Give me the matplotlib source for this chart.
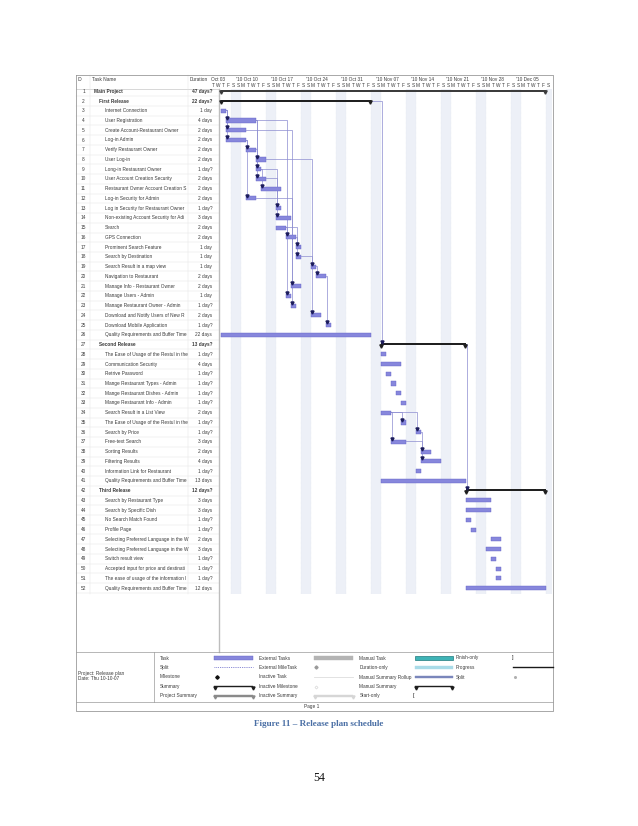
import numpy as np
import matplotlib
matplotlib.use("Agg")
import matplotlib.pyplot as plt
import matplotlib.dates as mdates

plt.rcParams['font.family'] = ['Liberation Sans', 'DejaVu Sans']

# ---------------- data ----------------
task_ids = list(range(1, 53))
task_names = [
    "Main Project", "First Release", "Internet Connection", "User Registration",
    "Create Account-Restaurant Owner", "Log-in Admin", "Verify Restaurant Owner",
    "User Log-in", "Long-in Restaurant Owner", "User Account Creation Security",
    "Restaurant Owner Account Creation S", "Log-in Security for Admin",
    "Log in Security for Restaurant Owner", "Non-existing Account Security for Adi",
    "Search", "GPS Connection", "Prominent Search Feature", "Search by Destination",
    "Search Result in a map view", "Navigation to Restaurant",
    "Manage Info - Restaurant Owner", "Manage Users - Admin",
    "Manage Restaurant Owner - Admin", "Download and Notify Users of New R",
    "Download Mobile Application", "Quality Requirements and Buffer Time",
    "Second Release", "The Ease of Usage of the Restul in the",
    "Communication Security", "Retrive Password", "Mange Restaurant Types - Admin",
    "Mange Restaurant Dishes - Admin", "Mange Restaurant Info - Admin",
    "Search Result in a List View", "The Ease of Usage of the Restul in the",
    "Search by Price", "Free-text Search", "Sorting Results", "Filtering Results",
    "Information Link for Restaurant", "Quality Requirements and Buffer Time",
    "Third Release", "Search by Restaurant Type", "Search by Specific Dish",
    "No Search Match Found", "Profile Page", "Selecting Preferred Language in the W",
    "Selecting Preferred Language in the W", "Switch result view",
    "Accepted input for price and destinati", "The ease of usage of the information I",
    "Quality Requirements and Buffer Time",
]
duration_labels = [
    "47 days?", "22 days?", "1 day", "4 days", "2 days", "2 days", "2 days", "2 days",
    "1 day?", "2 days", "2 days", "2 days", "1 day?", "3 days", "2 days", "2 days",
    "1 day", "1 day", "1 day", "2 days", "2 days", "1 day", "1 day?", "2 days",
    "1 day?", "22 days", "13 days?", "1 day?", "4 days", "1 day?", "1 day?", "1 day?",
    "1 day?", "2 days", "1 day?", "1 day?", "3 days", "2 days", "4 days", "1 day?",
    "13 days", "12 days?", "3 days", "3 days", "1 day?", "1 day?", "2 days", "3 days",
    "1 day?", "1 day?", "1 day?", "12 days",
]
work_days = [47, 22, 1, 4, 2, 2, 2, 2, 1, 2, 2, 2, 1, 3, 2, 2, 1, 1, 1, 2, 2, 1, 1, 2,
             1, 22, 13, 1, 4, 1, 1, 1, 1, 2, 1, 1, 3, 2, 4, 1, 13, 12, 3, 3, 1, 1, 2, 3,
             1, 1, 1, 12]
start_dates = [
    "2010-10-07", "2010-10-07", "2010-10-07", "2010-10-08", "2010-10-08", "2010-10-08",
    "2010-10-12", "2010-10-14", "2010-10-14", "2010-10-14", "2010-10-15", "2010-10-12",
    "2010-10-18", "2010-10-18", "2010-10-18", "2010-10-20", "2010-10-22", "2010-10-22",
    "2010-10-25", "2010-10-26", "2010-10-21", "2010-10-20", "2010-10-21", "2010-10-25",
    "2010-10-28", "2010-10-07", "2010-11-08", "2010-11-08", "2010-11-08", "2010-11-09",
    "2010-11-10", "2010-11-11", "2010-11-12", "2010-11-08", "2010-11-12", "2010-11-15",
    "2010-11-10", "2010-11-16", "2010-11-16", "2010-11-15", "2010-11-08", "2010-11-25",
    "2010-11-25", "2010-11-25", "2010-11-25", "2010-11-26", "2010-11-30", "2010-11-29",
    "2010-11-30", "2010-12-01", "2010-12-01", "2010-11-25",
]
outline_level = [0, 1] + [2] * 24 + [1] + [2] * 14 + [1] + [2] * 10
summary_ids = [1, 2, 27, 42]
links = [(3, 4), (3, 5), (3, 6), (6, 7), (6, 12), (4, 8), (4, 10), (7, 9), (9, 11),
         (9, 13), (10, 14), (4, 22), (5, 21), (12, 23), (8, 24), (15, 16), (15, 18),
         (16, 17), (18, 19), (19, 20), (20, 25), (2, 27), (34, 35), (34, 36), (34, 37),
         (36, 38), (37, 39), (27, 42)]
week_starts = ["2010-10-10", "2010-10-17", "2010-10-24", "2010-10-31",
               "2010-11-07", "2010-11-14", "2010-11-21", "2010-11-28", "2010-12-05",
               "2010-12-12"]
first_week_label = "Oct 03"
legend_col1 = ["Task", "Split", "Milestone", "Summary", "Project Summary"]
legend_col2 = ["External Tasks", "External MileTask", "Inactive Task",
               "Inactive Milestone", "Inactive Summary"]
legend_col3 = ["Manual Task", "Duration-only", "Manual Summary Rollup",
               "Manual Summary", "Start-only"]
legend_col4 = ["Finish-only", "Progress", "Split"]
project_info = ["Project: Release plan", "Date: Thu 10-10-07"]
caption = "Figure 11 \u2013 Release plan schedule"
page_number = "54"

# ---------------- layout ----------------
W, H = 638, 826
ROW1, DY = 91.3, 9.74
X_START_PIX, DAY_PIX = 220.5, 5.0
TXT = '#3a3a3a'
TASK_FC, TASK_EC = '#8787dc', '#6262c6'
LINK_C = '#8c8cd0'
WEEKEND = '#edf0f7'
FS = 3.4

fig = plt.figure(figsize=(W / 100, H / 100), dpi=100)
fig.patch.set_facecolor('white')


def add_ax(x0, y0, x1, y1):
    return fig.add_axes([x0 / W, 1 - y1 / H, (x1 - x0) / W, (y1 - y0) / H])


def row_y(r):
    return ROW1 + (r - 1) * DY


starts = np.array(start_dates, dtype='datetime64[D]')
ends = np.busday_offset(starts, np.array(work_days) - 1, roll='forward') + np.timedelta64(1, 'D')
s_num = mdates.date2num(starts)
e_num = mdates.date2num(ends)
d0 = mdates.date2num(np.datetime64("2010-10-07"))


def xlim_for(px0, px1):
    return (d0 + (px0 - X_START_PIX) / DAY_PIX, d0 + (px1 - X_START_PIX) / DAY_PIX)


# background axes in pixel coordinates
ax0 = fig.add_axes([0, 0, 1, 1])
ax0.set_xlim(0, W)
ax0.set_ylim(H, 0)
ax0.axis('off')

# ---------------- gantt axes ----------------
GX0, GX1, GY0, GY1 = 219, 552, 89, 652
axg = add_ax(GX0, GY0, GX1, GY1)
axg.set_xlim(*xlim_for(GX0, GX1))
r_top = 1 + (GY0 - ROW1) / DY
r_bot = 1 + (GY1 - ROW1) / DY
axg.set_ylim(r_bot, r_top)
axg.axis('off')

# weekend bands
band_ymin = (GY1 - 594) / (GY1 - GY0)
sat = np.arange(np.datetime64("2010-10-02"), np.datetime64("2010-12-18"), 7)
for s in mdates.date2num(sat):
    axg.axvspan(s, s + 2, ymin=band_ymin, ymax=1, color=WEEKEND, lw=0, zorder=0)
    for xx in (s, s + 2):
        axg.axvline(xx, ymin=band_ymin, ymax=1, color='#dfe4ee', lw=0.3,
                    ls=(0, (1.5, 1.5)), zorder=0.5)

rows = np.array(task_ids)
is_sum = np.isin(rows, summary_ids)

# task bars
axg.barh(rows[~is_sum], (e_num - s_num)[~is_sum], left=s_num[~is_sum], height=0.42,
         color=TASK_FC, edgecolor=TASK_EC, linewidth=0.3, zorder=3)

# summary bars
for r in rows[is_sum]:
    i = r - 1
    c = '#3c3c3c' if r == 1 else '#202020'
    axg.barh(r - 0.05, e_num[i] - s_num[i], left=s_num[i], height=0.26 if r == 1 else 0.2,
             color=c, lw=0, zorder=4)
    axg.plot([s_num[i] + 0.15, e_num[i] - 0.15], [r + 0.12, r + 0.12], ls='none',
             marker='v', ms=2.4, color=c, mec=c, zorder=5)

# links
for p, s in links:
    ip, is_ = p - 1, s - 1
    xv = max(e_num[ip], s_num[is_]) + 0.3
    yp = p - 0.05
    ys_top = s - 0.3
    axg.plot([e_num[ip], xv, xv], [yp, yp, ys_top], color=LINK_C, lw=0.5, zorder=2,
             solid_joinstyle='miter')
    axg.plot([xv], [ys_top], marker='v', ms=2.2, color='#1c1c5c', mec='#1c1c5c', zorder=6)

# ---------------- header timescale ----------------
HX0, HY0, HY1 = 210, 74.5, 89
axh = add_ax(HX0, HY0, GX1, HY1)
axh.set_xlim(*xlim_for(HX0, GX1))
axh.set_ylim(HY1, HY0)
axh.axis('off')
axh.text(axh.get_xlim()[0] + 0.15, 79.8, first_week_label, fontsize=FS, color=TXT,
         va='center', ha='left')
for ws in week_starts:
    wd = np.datetime64(ws)
    wn = mdates.date2num(wd)
    lab = "'10 " + wd.astype(object).strftime("%b %d")
    if ws == week_starts[-1]:
        lab = "'1"
    axh.text(wn + 0.15, 79.8, lab, fontsize=FS, color=TXT, va='center', ha='left',
             clip_on=True)
days = np.arange(np.datetime64("2010-10-05"), np.datetime64("2010-12-13"))
letters = "MTWTFSS"
for dday in days:
    wdx = dday.astype(object).weekday()
    axh.text(mdates.date2num(dday) + 0.5, 85.6, letters[wdx], fontsize=FS, color=TXT,
             va='center', ha='center', clip_on=True)

# ---------------- table ----------------
ax0.text(78, 79.8, "ID", fontsize=FS, color=TXT, va='center')
ax0.text(92, 79.8, "Task Name", fontsize=FS, color=TXT, va='center')
ax0.text(189.5, 79.8, "Duration", fontsize=FS, color=TXT, va='center')

indent = {0: 93.5, 1: 99.0, 2: 105.0}
for i, r in enumerate(task_ids):
    y = row_y(r)
    bold = r in summary_ids
    fw = 'bold' if bold else 'normal'
    ax0.text(83.5, y, str(r), fontsize=FS, color=TXT, va='center', ha='center')
    ax0.text(indent[outline_level[i]], y, task_names[i], fontsize=FS, color=TXT,
             va='center', ha='left', fontweight=fw)
    ax0.text(212, y, duration_labels[i], fontsize=FS, color=TXT, va='center',
             ha='right', fontweight=fw)

# row grid lines
for r in range(1, 53):
    yb = row_y(r) + DY / 2
    ax0.plot([75.5, 218.5], [yb, yb], color='#e4e4e4', lw=0.35, zorder=1)
ax0.plot([75.5, 218.5], [89, 89], color='#c8c8c8', lw=0.5)
for xc in (89.5, 187.5):
    ax0.plot([xc, xc], [74.5, 594], color='#e4e4e4', lw=0.35)

# frame and divider lines
ax0.plot([75.5, 552.5, 552.5, 75.5, 75.5], [74.5, 74.5, 711, 711, 74.5], color='#9a9a9a', lw=0.6)
ax0.plot([218.5, 218.5], [89, 652], color='#bdbdbd', lw=1.0)
ax0.plot([75.5, 552.5], [652, 652], color='#9a9a9a', lw=0.5)
ax0.plot([75.5, 552.5], [702, 702], color='#9a9a9a', lw=0.5)
ax0.plot([153.5, 153.5], [652, 702], color='#9a9a9a', lw=0.5)

# ---------------- legend ----------------
LY = [658, 667.3, 677, 686.7, 696]
ax0.text(77.5, 673.5, project_info[0], fontsize=FS, color=TXT, va='center')
ax0.text(77.5, 678.5, project_info[1], fontsize=FS, color=TXT, va='center')
for lab, y in zip(legend_col1, LY):
    ax0.text(160, y, lab, fontsize=FS, color=TXT, va='center')
for lab, y in zip(legend_col2, LY):
    ax0.text(259.3, y, lab, fontsize=FS, color=TXT, va='center')
for lab, y in zip(legend_col3, LY):
    ax0.text(359.3, y, lab, fontsize=FS, color=TXT, va='center')
for lab, y in zip(legend_col4, LY):
    ax0.text(456, y, lab, fontsize=FS, color=TXT, va='center')


def leg_bar(x0, x1, y, h, fc, ec=None, lw=0.3):
    ax0.add_patch(plt.Rectangle((x0, y - h / 2), x1 - x0, h, fc=fc,
                                ec=ec if ec else fc, lw=lw))


def leg_summary(x0, x1, y, c):
    leg_bar(x0, x1, y - 0.3, 1.6, c)
    ax0.plot([x0 + 0.8, x1 - 0.8], [y + 1.0, y + 1.0], ls='none', marker='v', ms=2.2,
             color=c, mec=c)


# column 1 symbols
leg_bar(214.3, 253.3, LY[0], 3.6, TASK_FC, TASK_EC)
ax0.plot([214.3, 253.3], [LY[1], LY[1]], color=TASK_EC, lw=0.6, ls=(0, (1, 1.2)))
ax0.plot([217], [LY[2]], marker='D', ms=1.8, color='#111111')
leg_summary(214.3, 253.3, LY[3], '#1e1e1e')
leg_summary(214.3, 253.3, LY[4], '#8a8a8a')
# column 2 symbols
leg_bar(314, 353.3, LY[0], 3.6, '#b4b4b4')
ax0.plot([316], [LY[1]], marker='D', ms=1.6, color='#9a9a9a')
ax0.plot([314, 353.3], [LY[2], LY[2]], color='#dddddd', lw=0.6)
ax0.plot([316], [LY[3]], marker='D', ms=1.6, mfc='white', mec='#cfcfcf', mew=0.4)
leg_summary(314, 353.3, LY[4], '#d6d6d6')
# column 3 symbols
leg_bar(415, 452.7, LY[0], 3.4, '#3fb3b6', '#1f7a7e', 0.5)
leg_bar(415, 452.7, LY[1], 2.6, '#a9dbe8')
leg_bar(415, 452.7, LY[2], 1.6, '#7a86bb')
leg_summary(415, 452.7, LY[3], '#1e1e1e')
ax0.text(413, LY[4], "[", fontsize=FS + 0.6, color='#222222', va='center')
# column 4 symbols
ax0.text(512.5, LY[0], "]", fontsize=FS + 0.6, color='#222222', va='center')
ax0.plot([513, 552.5], [LY[1], LY[1]], color='#1a1a1a', lw=1.0)
ax0.plot([515], [LY[2]], marker='o', ms=1.2, color='#b0b0b0')

# footer
ax0.text(312, 706.5, "Page 1", fontsize=FS, color=TXT, va='center', ha='center')

# caption and page number
ax0.text(319, 724, caption, fontsize=6.6, color='#4a6fa5', fontweight='bold',
         family=['Liberation Serif', 'DejaVu Serif'], va='center', ha='center')
ax0.text(319, 778, page_number, fontsize=8.5, color='#111111',
         family=['Liberation Serif', 'DejaVu Serif'], va='center', ha='center')

fig.savefig("out.png", dpi=100, facecolor='white')
